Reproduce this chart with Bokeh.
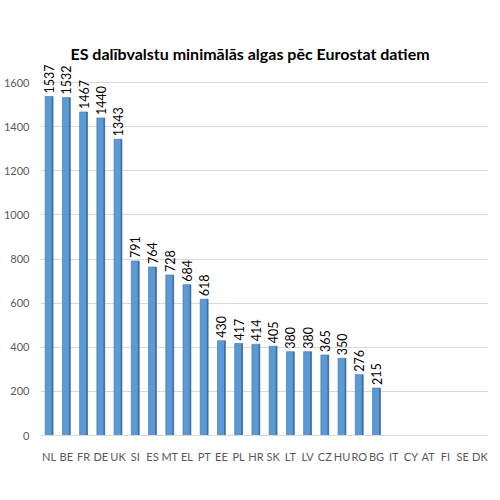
from bokeh.core.properties import value
from bokeh.embed import file_html
from bokeh.models import ColumnDataSource, FactorRange, Label, Range1d
from bokeh.plotting import figure
from bokeh.resources import INLINE
from bokeh.transform import dodge

# Data
countries = ["NL", "BE", "FR", "DE", "UK", "SI", "ES", "MT", "EL", "PT", "EE", "PL", "HR",
             "SK", "LT", "LV", "CZ", "HU", "RO", "BG", "IT", "CY", "AT", "FI", "SE", "DK"]
wage_countries = countries[:20]
wages = [1537, 1532, 1467, 1440, 1343, 791, 764, 728, 684, 618, 430, 417, 414,
         405, 380, 380, 365, 350, 276, 215]
y_ticks = [0, 200, 400, 600, 800, 1000, 1200, 1400, 1600]
title = "ES dalībvalstu minimālās algas pēc Eurostat datiem"

src = ColumnDataSource(data=dict(x=wage_countries, top=wages, label=[str(v) for v in wages]))

p = figure(
    x_range=FactorRange(factors=countries, range_padding=0),
    y_range=Range1d(0, 1800),
    frame_width=448, frame_height=397,
    output_backend="svg", toolbar_location=None, tools="",
    min_border_left=33, min_border_right=2, min_border_top=38, min_border_bottom=25,
)

# cylinder-like bars: front face, darker side
p.vbar(x="x", top="top", width=0.46, source=src, fill_color="#5b9bd5",
       line_color="#41719c", line_width=0.6)
p.vbar(x=dodge("x", 0.19, range=p.x_range), top="top", width=0.08, source=src,
       fill_color="#3f6f9f", line_color=None)

p.text(x="x", y="top", text="label", source=src, angle=1.5708, text_align="left",
       text_baseline="middle", y_offset=-3, text_font_size="12.5px",
       text_color="#000000", text_font=value("Lato"))

p.add_layout(Label(x=12.16, y=1732, text=title, text_align="center", text_baseline="middle",
                   text_font="Lato", text_font_size="16px", text_font_style="bold",
                   text_color="#000000"))

p.outline_line_color = None
p.xgrid.grid_line_color = None
p.ygrid.grid_line_color = "#d9d9d9"
p.ygrid.ticker = y_ticks
p.yaxis.ticker = y_ticks
p.yaxis.axis_line_color = None
p.yaxis.major_tick_line_color = None
p.yaxis.minor_tick_line_color = None
p.yaxis.major_label_text_font_size = "11px"
p.yaxis.major_label_text_color = "#595959"
p.yaxis.major_label_text_font = "Lato"
p.xaxis.axis_line_color = "#d9d9d9"
p.xaxis.major_tick_line_color = None
p.xaxis.major_label_text_font_size = "11px"
p.xaxis.major_label_text_color = "#595959"
p.xaxis.major_label_text_font = "Lato"
p.xaxis.major_label_standoff = 8

open("out.html", "w").write(file_html(p, INLINE))
